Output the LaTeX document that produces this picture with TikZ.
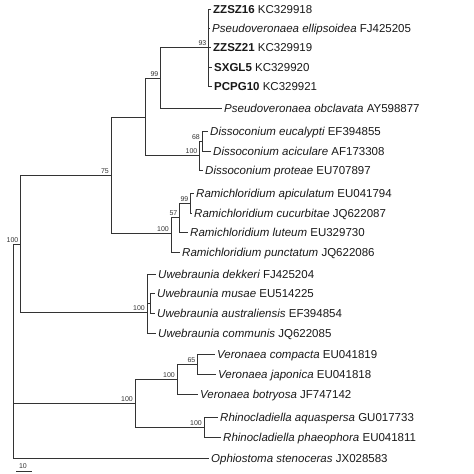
\documentclass[tikz,border=0pt]{standalone}
\usepackage{fontspec}
\setmainfont{Liberation Sans}
\begin{document}
\begin{tikzpicture}[x=1pt,y=-1pt]
\tikzset{
 br/.style={line width=0.9pt, draw=black!80},
 leaf/.style={anchor=west, inner xsep=2pt, inner ysep=0pt, text height=8.3pt, text depth=0pt, text=black!90, font=\fontsize{11.5}{12}\selectfont},
 sup/.style={anchor=south east, inner sep=0pt, text=black!80, font=\fontsize{7}{8}\selectfont},
}
\useasboundingbox (0,0) rectangle (474,474);
% internal nodes
\coordinate (root) at (13,244);
\coordinate (nA) at (20,244);
\coordinate (n75) at (111,175);
\coordinate (nPs) at (145,117);
\coordinate (nObc) at (160,78);
\coordinate (n93) at (208,47);
\coordinate (nDis) at (199,155);
\coordinate (n68) at (202,141);
\coordinate (nR100) at (171,233);
\coordinate (n57) at (179,217);
\coordinate (nR99) at (190,203);
\coordinate (nU) at (147,312);
\coordinate (nUsub) at (150,303);
\coordinate (nVR) at (135,403);
\coordinate (nV) at (177,379);
\coordinate (n65) at (197,364);
\coordinate (nRh) at (204,427);
% leaves
\node[leaf] (l1) at (211,9) {\textbf{ZZSZ16} KC329918};
\node[leaf] (l2) at (210,28) {\itshape Pseudoveronaea ellipsoidea\upshape{} FJ425205};
\node[leaf] (l3) at (211,47) {\textbf{ZZSZ21} KC329919};
\node[leaf] (l4) at (212,67) {\textbf{SXGL5} KC329920};
\node[leaf] (l5) at (212,86) {\textbf{PCPG10} KC329921};
\node[leaf] (l6) at (222,108) {\itshape Pseudoveronaea obclavata\upshape{} AY598877};
\node[leaf] (l7) at (208,131) {\itshape Dissoconium eucalypti\upshape{} EF394855};
\node[leaf] (l8) at (211,151) {\itshape Dissoconium aciculare\upshape{} AF173308};
\node[leaf] (l9) at (203,170) {\itshape Dissoconium proteae\upshape{} EU707897};
\node[leaf] (l10) at (194,193) {\itshape Ramichloridium apiculatum\upshape{} EU041794};
\node[leaf] (l11) at (192,213) {\itshape Ramichloridium cucurbitae\upshape{} JQ622087};
\node[leaf] (l12) at (188,232) {\itshape Ramichloridium luteum\upshape{} EU329730};
\node[leaf] (l13) at (180,252) {\itshape Ramichloridium punctatum\upshape{} JQ622086};
\node[leaf] (l14) at (156,274) {\itshape Uwebraunia dekkeri\upshape{} FJ425204};
\node[leaf] (l15) at (155,293) {\itshape Uwebraunia musae\upshape{} EU514225};
\node[leaf] (l16) at (155,313) {\itshape Uwebraunia australiensis\upshape{} EF394854};
\node[leaf] (l17) at (156,333) {\itshape Uwebraunia communis\upshape{} JQ622085};
\node[leaf] (l18) at (215,354) {\itshape Veronaea compacta\upshape{} EU041819};
\node[leaf] (l19) at (216,374) {\itshape Veronaea japonica\upshape{} EU041818};
\node[leaf] (l20) at (198,394) {\itshape Veronaea botryosa\upshape{} JF747142};
\node[leaf] (l21) at (218,417) {\itshape Rhinocladiella aquaspersa\upshape{} GU017733};
\node[leaf] (l22) at (221,437) {\itshape Rhinocladiella phaeophora\upshape{} EU041811};
\node[leaf] (l23) at (209,458) {\itshape Ophiostoma stenoceras\upshape{} JX028583};
% branches
\draw[br] (root) |- (nA);
\draw[br] (root) |- (nVR);
\draw[br] (root) |- (l23.west);
\draw[br] (nA) |- (n75);
\draw[br] (nA) |- (nU);
\draw[br] (n75) |- (nPs);
\draw[br] (n75) |- (nR100);
\draw[br] (nPs) |- (nObc);
\draw[br] (nPs) |- (nDis);
\draw[br] (nObc) |- (n93);
\draw[br] (nObc) |- (l6.west);
\draw[br] (n93) |- (l1.west);
\draw[br] (n93) |- (l2.west);
\draw[br] (n93) -- (l3.west);
\draw[br] (n93) |- (l4.west);
\draw[br] (n93) |- (l5.west);
\draw[br] (nDis) |- (n68);
\draw[br] (nDis) |- (l9.west);
\draw[br] (n68) |- (l7.west);
\draw[br] (n68) |- (l8.west);
\draw[br] (nR100) |- (n57);
\draw[br] (nR100) |- (l13.west);
\draw[br] (n57) |- (nR99);
\draw[br] (n57) |- (l12.west);
\draw[br] (nR99) |- (l10.west);
\draw[br] (nR99) |- (l11.west);
\draw[br] (nU) |- (l14.west);
\draw[br] (nU) |- (nUsub);
\draw[br] (nU) |- (l17.west);
\draw[br] (nUsub) |- (l15.west);
\draw[br] (nUsub) |- (l16.west);
\draw[br] (nVR) |- (nV);
\draw[br] (nVR) |- (nRh);
\draw[br] (nV) |- (n65);
\draw[br] (nV) |- (l20.west);
\draw[br] (n65) |- (l18.west);
\draw[br] (n65) |- (l19.west);
\draw[br] (nRh) |- (l21.west);
\draw[br] (nRh) |- (l22.west);
% support values
\node[sup] (s93) at (206.5,45.5) {93};
\node[sup] (s99) at (158.5,76.5) {99};
\node[sup] (s68) at (200,139.5) {68};
\node[sup] (sD) at (197.5,153.5) {100};
\node[sup] (s75) at (109,173.5) {75};
\node[sup] (sR99) at (188.5,201.5) {99};
\node[sup] (s57) at (177.5,215.5) {57};
\node[sup] (sR) at (169,231.5) {100};
\node[sup] (sRoot) at (18.5,242.5) {100};
\node[sup] (sU) at (145,310.5) {100};
\node[sup] (s65) at (195.5,362.5) {65};
\node[sup] (sV) at (175,377.5) {100};
\node[sup] (sVR) at (133,401.5) {100};
\node[sup] (sRh) at (202,425.5) {100};
% scale bar
\coordinate (sb1) at (16,471);
\coordinate (sb2) at (32,471);
\draw[br] (sb1) -- (sb2);
\node[sup, anchor=south] (sbl) at (23,469) {10};
\end{tikzpicture}
\end{document}
